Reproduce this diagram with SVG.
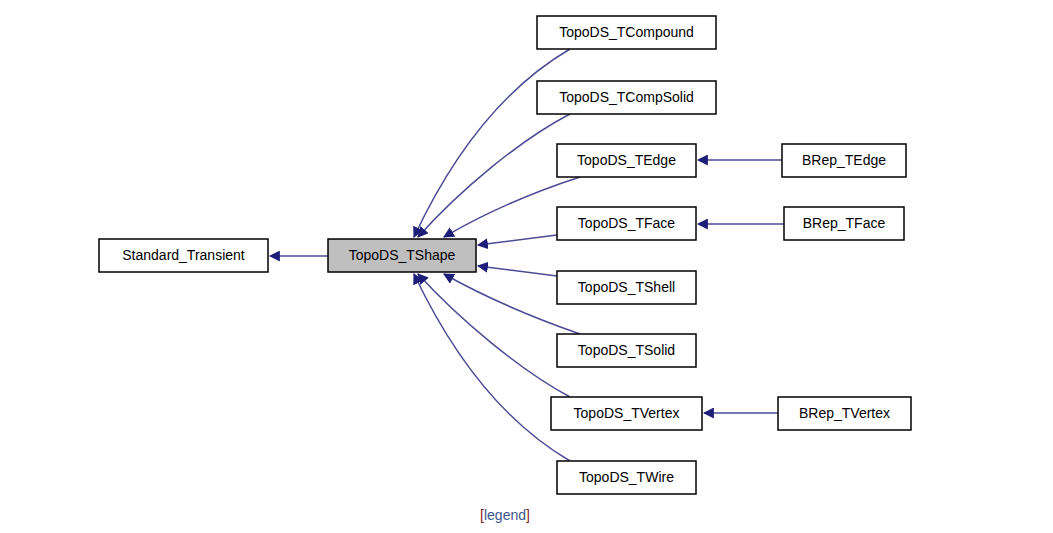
<svg xmlns="http://www.w3.org/2000/svg" width="1053" height="533" viewBox="0 0 1053 533">
<style>
.n rect{fill:#fff;stroke:#000;stroke-width:1.5}
.n text{font-family:"Liberation Sans",Arial,sans-serif;font-size:14px;text-anchor:middle;fill:#000}
#edges path{fill:none;stroke:#4b4b96;stroke-width:1.5;marker-end:url(#ah)}
</style>
<defs>
<marker id="ah" viewBox="0 0 10 10" refX="9" refY="5" markerWidth="11" markerHeight="11" markerUnits="userSpaceOnUse" orient="auto"><path d="M0,0 L10,5 L0,10 z" fill="#1e1e78"/></marker>
</defs>
<rect width="1053" height="533" fill="#fff"/>
<g id="edges">
<path d="M328,256 L270,256"/>
<path d="M570,49 C500,90 450,160 414,237"/>
<path d="M570,114 C520,140 460,190 418,237"/>
<path d="M580,177 C540,190 490,210 444,237"/>
<path d="M557,235 L478,245"/>
<path d="M557,276 L478,266"/>
<path d="M580,334 C540,320 490,300 444,274"/>
<path d="M570,397 C520,370 460,320 418,274"/>
<path d="M570,461 C500,420 450,350 414,274"/>
<path d="M782,160 L698,160"/>
<path d="M784,224 L698,224"/>
<path d="M778,413 L704,413"/>
</g>
<g id="standard_transient" class="n"><rect x="99" y="239" width="169" height="33"/><text x="183.5" y="260">Standard_Transient</text></g>
<g id="tshape" class="n"><rect x="328" y="239" width="148" height="33" style="fill:#bfbfbf"/><text x="402" y="260">TopoDS_TShape</text></g>
<g id="tcompound" class="n"><rect x="537" y="16" width="179" height="33"/><text x="626.5" y="37">TopoDS_TCompound</text></g>
<g id="tcompsolid" class="n"><rect x="537" y="81" width="179" height="33"/><text x="626.5" y="102">TopoDS_TCompSolid</text></g>
<g id="tedge" class="n"><rect x="557" y="144" width="139" height="33"/><text x="626.5" y="165">TopoDS_TEdge</text></g>
<g id="tface" class="n"><rect x="557" y="207" width="139" height="33"/><text x="626.5" y="228">TopoDS_TFace</text></g>
<g id="tshell" class="n"><rect x="557" y="271" width="139" height="33"/><text x="626.5" y="292">TopoDS_TShell</text></g>
<g id="tsolid" class="n"><rect x="557" y="334" width="139" height="33"/><text x="626.5" y="355">TopoDS_TSolid</text></g>
<g id="tvertex" class="n"><rect x="551" y="397" width="151" height="33"/><text x="626.5" y="418">TopoDS_TVertex</text></g>
<g id="twire" class="n"><rect x="557" y="461" width="139" height="33"/><text x="626.5" y="482">TopoDS_TWire</text></g>
<g id="brep_tedge" class="n"><rect x="782" y="144" width="124" height="33"/><text x="844" y="165">BRep_TEdge</text></g>
<g id="brep_tface" class="n"><rect x="784" y="207" width="120" height="33"/><text x="844" y="228">BRep_TFace</text></g>
<g id="brep_tvertex" class="n"><rect x="778" y="397" width="133" height="33"/><text x="844.5" y="418">BRep_TVertex</text></g>
<text x="505" y="520" font-family="'Liberation Sans',Arial,sans-serif" font-size="14" text-anchor="middle" fill="#3d578c"><tspan fill="#8b1a1a">[</tspan>legend<tspan fill="#8b1a1a">]</tspan></text>
</svg>
